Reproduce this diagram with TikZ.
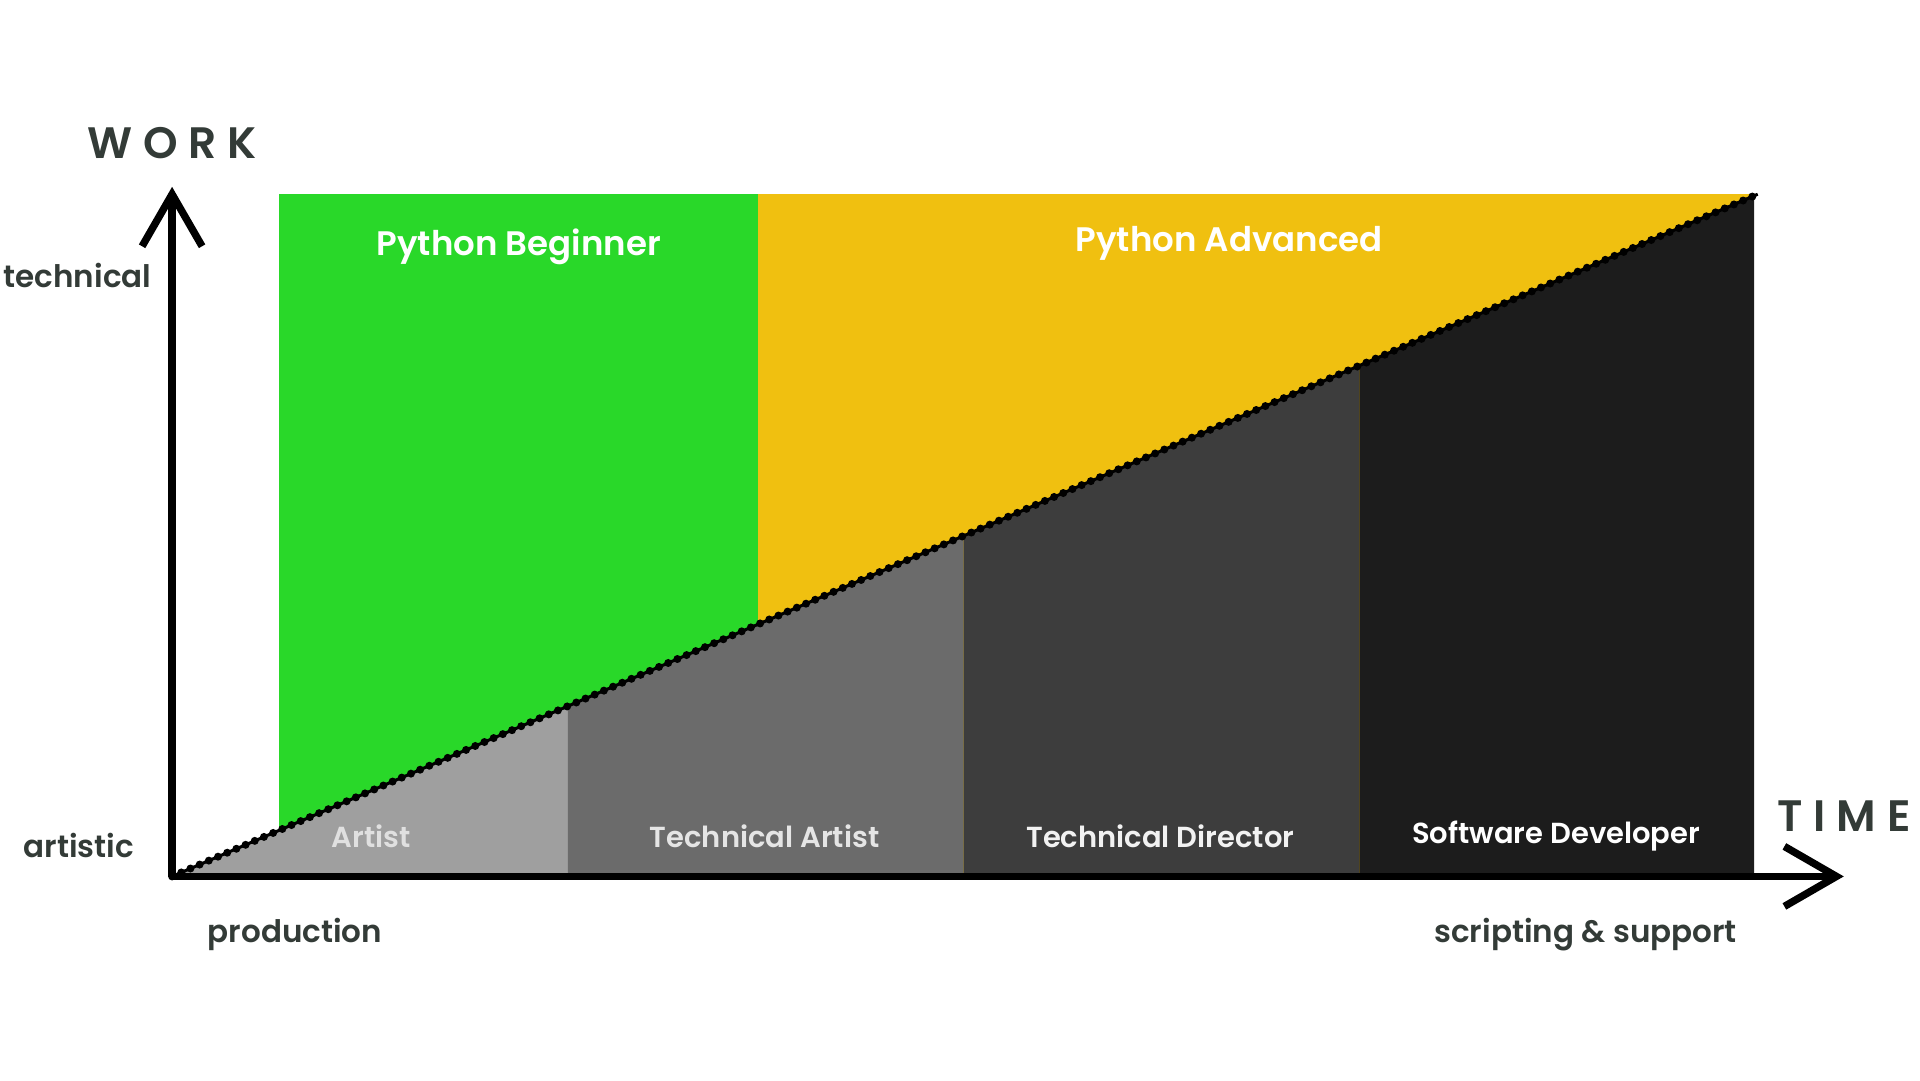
\documentclass[tikz,border=0pt]{standalone}
\usepackage{fontspec}
\setmainfont{Poppins}[BoldFont={* SemiBold}]
\usetikzlibrary{arrows.meta}
\definecolor{txt}{HTML}{333B37}
\definecolor{grn}{HTML}{29D829}
\definecolor{ylw}{HTML}{F0C010}
\tikzset{
 ax/.style={line width=3.7pt,-{Straight Barb[length=26pt,width=30pt,line width=3.7pt]}},
 axlab/.style={text=txt,font=\bfseries\fontsize{22}{24}\selectfont\addfontfeatures{LetterSpace=25}},
 side/.style={text=txt,font=\bfseries\fontsize{15.5}{18}\selectfont},
 zone/.style={font=\bfseries\fontsize{14.5}{17}\selectfont},
 head/.style={text=white,font=\bfseries\fontsize{17}{20}\selectfont}
}
\begin{document}
\begin{tikzpicture}[x=0.6145pt,y=-0.6145pt]
\useasboundingbox (0,0) rectangle (1562,879);
\fill[white] (0,0) rectangle (1562,879);
% regions
\fill[grn] (227,158) rectangle (617,713);
\fill[ylw] (617,158) rectangle (1427,713);
\fill[gray!75!white] (140,713) -- (462,574.5) -- (462,713) -- cycle;
\fill[black!58] (462,713) -- (462,574.5) -- (784,435.9) -- (784,713) -- cycle;
\fill[black!76] (784,713) -- (784,435.9) -- (1106,297.4) -- (1106,713) -- cycle;
\fill[black!89] (1106,713) -- (1106,297.4) -- (1427,158) -- (1427,713) -- cycle;
% diagonal
\coordinate (d0) at (140,713);
\coordinate (d1) at (1430,158);
\draw[line width=1.5pt] (d0) -- (d1);
\draw[line width=4pt,line cap=round,dash pattern=on 0pt off 5pt] (d0) -- (d1);
% axes
\coordinate (o) at (140,713);
\coordinate (xe) at (1500,713);
\coordinate (ye) at (140,152);
\draw[ax] (o) -- (xe);
\draw[ax] (o) -- (ye);
% labels
\node[axlab] (work) at (140,116) {WORK};
\node[axlab] (time) at (1500,664) {TIME};
\node[side] (tech) at (63,224) {technical};
\node[side] (art) at (64,688) {artistic};
\node[side] (prod) at (240,760) {production};
\node[side] (scr) at (1290,760) {scripting \& support};
\node[head] (pb) at (422,201) {Python Beginner};
\node[head] (pa) at (1000,198) {Python Advanced};
\node[zone,text=black!12] (z1) at (302,680) {Artist};
\node[zone,text=black!10] (z2) at (622,680) {Technical Artist};
\node[zone,text=black!5] (z3) at (944,680) {Technical Director};
\node[zone,text=white] (z4) at (1266,680) {Software Developer};
\end{tikzpicture}
\end{document}
